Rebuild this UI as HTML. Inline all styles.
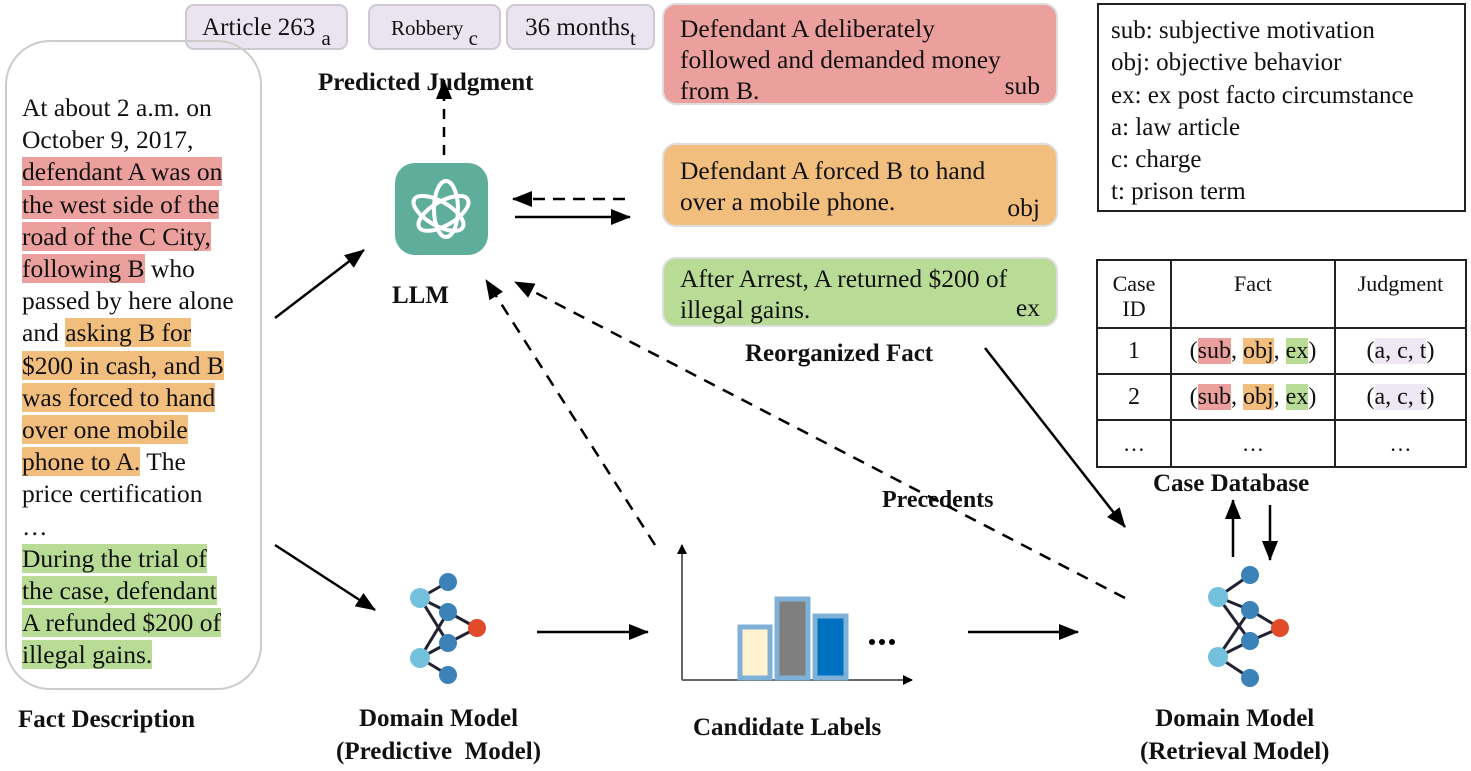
<!DOCTYPE html>
<html><head><meta charset="utf-8"><style>
body{margin:0;width:1471px;height:771px;background:#fff;position:relative;overflow:hidden;font-family:"Liberation Serif","Times New Roman",serif;color:#111}
.a{position:absolute}
.b{font-weight:bold;font-size:25px;text-align:center;white-space:nowrap}
.tag{position:absolute;top:4px;height:46px;background:#e9e4ef;border:2px solid #cdc8d2;border-radius:9px;box-sizing:border-box;font-size:25px;line-height:44px;text-align:center;white-space:nowrap}
.tag sub{font-size:21px;vertical-align:-10px}
.ft{position:absolute;left:22px;top:92px;font-size:25.5px;line-height:32.2px;white-space:nowrap}
.r{background:#eba09d}.o{background:#f2be7e}.g{background:#b8dc95}.p{background:#eee8f4}
.box{position:absolute;left:662px;width:396px;border-radius:14px;border:2px solid #ddd;box-sizing:border-box;font-size:25.5px;line-height:31px;padding:8px 16px;white-space:nowrap}
.box i{font-style:normal;position:absolute;right:16px;bottom:2px}
table{border-collapse:collapse;font-size:22px;text-align:center}
td{border:2px solid #222;padding:0}
</style></head><body>

<div class="tag" style="left:185px;width:163px">Article 263 <sub>a</sub></div>
<div class="tag" style="left:368px;width:133px;font-size:21px">Robbery <sub>c</sub></div>
<div class="tag" style="left:506px;width:149px">36 months<sub>t</sub></div>

<div class="a" style="left:5px;top:40px;width:257px;height:650px;border:2px solid #ccc;border-radius:45px;box-sizing:border-box"></div>
<div class="ft">At about 2 a.m. on<br>October 9, 2017,<br><span class="r">defendant A was on</span><br><span class="r">the west side of the</span><br><span class="r">road of the C City,</span><br><span class="r">following B</span> who<br>passed by here alone<br>and <span class="o">asking B for</span><br><span class="o">$200 in cash, and B</span><br><span class="o">was forced to hand</span><br><span class="o">over one mobile</span><br><span class="o">phone to A.</span> The<br>price certification<br>…<br><span class="g">During the trial of</span><br><span class="g">the case, defendant</span><br><span class="g">A refunded $200 of</span><br><span class="g">illegal gains.</span></div>

<div class="box r" style="top:3px;height:102px">Defendant A deliberately<br>followed and demanded money<br>from B.<i>sub</i></div>
<div class="box o" style="top:143px;height:84px;padding-top:10px">Defendant A forced B to hand<br>over a mobile phone.<i>obj</i></div>
<div class="box g" style="top:257px;height:70px;padding-top:4px">After Arrest, A returned $200 of<br>illegal gains.<i>ex</i></div>

<div class="a" style="left:1097px;top:3px;width:369px;height:209px;border:2px solid #222;box-sizing:border-box;font-size:25px;line-height:32.3px;padding:10px 0 0 12px;white-space:nowrap">sub: subjective motivation<br>obj: objective behavior<br>ex: ex post facto circumstance<br>a: law article<br>c: charge<br>t: prison term</div>

<table class="a" style="left:1096px;top:259px;width:371px">
<tr style="height:68px"><td style="width:72px;line-height:25px;vertical-align:top;padding-top:10px">Case<br>ID</td><td style="width:162px;vertical-align:top;padding-top:10px">Fact</td><td style="vertical-align:top;padding-top:10px">Judgment</td></tr>
<tr style="height:46px;font-size:24px"><td>1</td><td>(<span class="r">sub</span>, <span class="o">obj</span>, <span class="g">ex</span>)</td><td>(<span class="p">a, c, t</span>)</td></tr>
<tr style="height:46px;font-size:24px"><td>2</td><td>(<span class="r">sub</span>, <span class="o">obj</span>, <span class="g">ex</span>)</td><td>(<span class="p">a, c, t</span>)</td></tr>
<tr style="height:47px"><td>…</td><td>…</td><td>…</td></tr>
</table>

<div class="a b" style="left:318px;top:69px">Predicted Judgment</div>
<div class="a b" style="left:392px;top:282px">LLM</div>
<div class="a b" style="left:745px;top:340px">Reorganized Fact</div>
<div class="a b" style="left:1153px;top:470px">Case Database</div>
<div class="a b" style="left:882px;top:487px;font-size:24px">Precedents</div>
<div class="a b" style="left:18px;top:706px">Fact Description</div>
<div class="a b" style="left:336px;top:702px;line-height:33px">Domain Model<br>(Predictive&nbsp; Model)</div>
<div class="a b" style="left:693px;top:714px">Candidate Labels</div>
<div class="a b" style="left:1140px;top:702px;line-height:33px">Domain Model<br>(Retrieval Model)</div>

<svg class="a" style="left:0;top:0" width="1471" height="771">
<defs><marker id="m" markerWidth="10" markerHeight="10" refX="9" refY="5" orient="auto" markerUnits="userSpaceOnUse"><path d="M0,0 L10,5 L0,10 z" fill="#000"/></marker>
<marker id="m2" markerWidth="20" markerHeight="16" refX="19" refY="8" orient="auto" markerUnits="userSpaceOnUse"><path d="M0,0 L20,8 L0,16 z" fill="#000"/></marker></defs>
<g stroke="#000" stroke-width="2.5" fill="none" marker-end="url(#m2)">
<line x1="444" y1="155" x2="444" y2="80" stroke-dasharray="10,8"/>
<line x1="625" y1="199" x2="513" y2="199" stroke-dasharray="12,8"/>
<line x1="515" y1="217" x2="630" y2="217"/>
<line x1="275" y1="318" x2="364" y2="250"/>
<line x1="275" y1="545" x2="375" y2="610"/>
<line x1="537" y1="632" x2="648" y2="632"/>
<line x1="968" y1="632" x2="1078" y2="632"/>
<line x1="655" y1="545" x2="486" y2="280" stroke-dasharray="12,9"/>
<line x1="1125" y1="598" x2="515" y2="282" stroke-dasharray="12,9"/>
<line x1="985" y1="348" x2="1125" y2="527"/>
<line x1="1233" y1="557" x2="1233" y2="500"/>
<line x1="1270" y1="505" x2="1270" y2="560"/>
</g>
<rect x="395" y="163" width="93" height="92" rx="20" fill="#5fae9b"/>
<g stroke="#fff" stroke-width="4" fill="none" transform="translate(441,209)">
<ellipse rx="12" ry="28" transform="rotate(0) translate(5,0)"/>
<ellipse rx="12" ry="28" transform="rotate(60) translate(5,0)"/>
<ellipse rx="12" ry="28" transform="rotate(120) translate(5,0)"/>
</g>
<g stroke="#223" stroke-width="3">
<path d="M420,598 L448,582 M420,598 L448,612 M420,598 L448,643 M420,658 L448,612 M420,658 L448,643 M420,658 L448,675 M448,612 L477,628 M448,643 L477,628"/>
<path d="M1218,597 L1250,575 M1218,597 L1250,610 M1218,597 L1250,641 M1218,657 L1250,610 M1218,657 L1250,641 M1218,657 L1250,678 M1250,610 L1280,628 M1250,641 L1280,628"/>
</g>
<g fill="#3a82b8"><circle cx="448" cy="582" r="9"/><circle cx="448" cy="612" r="9"/><circle cx="448" cy="643" r="9"/><circle cx="448" cy="675" r="9"/>
<circle cx="1250" cy="575" r="9"/><circle cx="1250" cy="610" r="9"/><circle cx="1250" cy="641" r="9"/><circle cx="1250" cy="678" r="9"/></g>
<g fill="#74c1de"><circle cx="420" cy="598" r="10"/><circle cx="420" cy="658" r="10"/><circle cx="1218" cy="597" r="10"/><circle cx="1218" cy="657" r="10"/></g>
<g fill="#e14b2a"><circle cx="477" cy="628" r="9"/><circle cx="1280" cy="628" r="9"/></g>
<g stroke="#666" stroke-width="2" marker-end="url(#m)"><line x1="682" y1="680" x2="682" y2="545"/><line x1="682" y1="680" x2="912" y2="680"/></g>
<rect x="740" y="627" width="30" height="51" fill="#fff2cf" stroke="#7fb1d8" stroke-width="5"/>
<rect x="777" y="599" width="31" height="79" fill="#7f7f7f" stroke="#7fb1d8" stroke-width="5"/>
<rect x="815" y="616" width="31" height="62" fill="#0070c0" stroke="#7fb1d8" stroke-width="5"/>
<g fill="#000"><circle cx="872" cy="642" r="3"/><circle cx="882" cy="642" r="3"/><circle cx="892" cy="642" r="3"/></g>
</svg>
</body></html>
